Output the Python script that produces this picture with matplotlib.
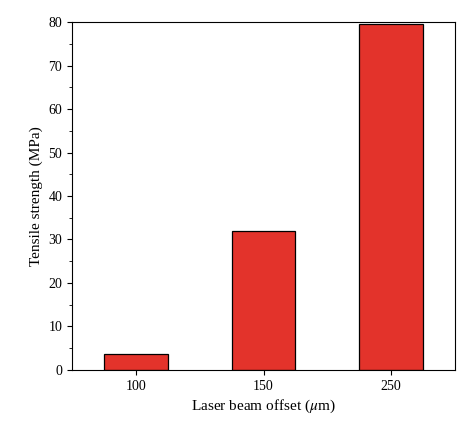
import matplotlib.pyplot as plt
from matplotlib.ticker import MultipleLocator

offsets = ["100", "150", "250"]
strength = [3.7, 32.0, 79.5]

plt.rcParams['font.family'] = ['Liberation Serif', 'DejaVu Serif']
plt.rcParams['mathtext.fontset'] = 'stix'

fig = plt.figure(figsize=(4.74, 4.44), dpi=100)
ax = fig.add_axes([0.152, 0.167, 0.808, 0.783])

ax.bar(range(len(offsets)), strength, width=0.5, color='#e3332b', edgecolor='black', linewidth=0.9)
ax.set_xticks(range(len(offsets)))
ax.set_xticklabels(offsets)
ax.set_xlim(-0.5, 2.5)
ax.set_ylim(0, 80)
ax.yaxis.set_major_locator(MultipleLocator(10))
ax.yaxis.set_minor_locator(MultipleLocator(5))
ax.tick_params(direction='out', labelsize=10)
ax.tick_params(which='minor', length=2)
ax.set_xlabel(r'Laser beam offset ($\mu$m)', fontsize=11)
ax.set_ylabel('Tensile strength (MPa)', fontsize=11)

fig.savefig('out.png')
